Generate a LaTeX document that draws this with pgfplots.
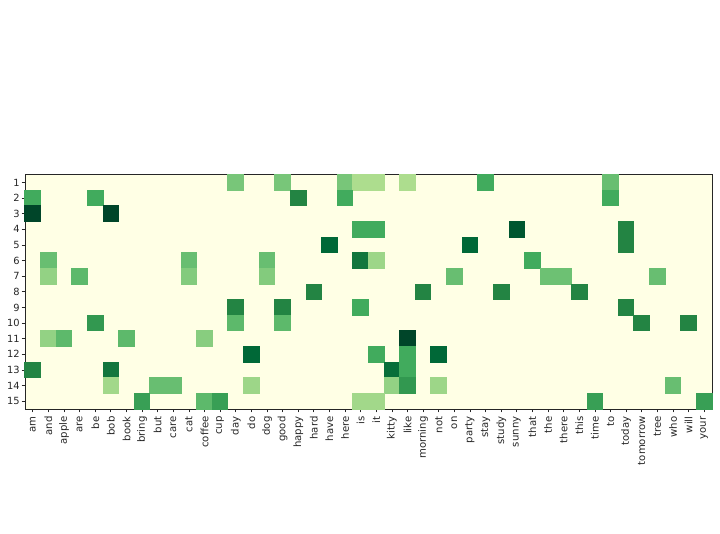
\documentclass[border=0pt]{standalone}
\usepackage{pgfplots}
\pgfplotsset{compat=1.18}
\usepackage{fontspec}
\setmainfont{DejaVu Sans}
\definecolor{bgc}{RGB}{255,255,229}
\pgfplotstableread{
x y c
13 1 4
16 1 4
20 1 4
21 1 3
22 1 3
24 1 3
29 1 5
37 1 4.3
0 2 5
4 2 5
17 2 6
20 2 5
37 2 5
0 3 8
5 3 8
21 4 5
22 4 5
31 4 7.5
38 4 6
19 5 7
28 5 7
38 5 6
1 6 4.3
10 6 4.3
15 6 4.3
21 6 6.5
22 6 3.3
32 6 5
1 7 3.5
3 7 4.5
10 7 3.8
15 7 3.8
27 7 4.3
33 7 4.2
34 7 4.2
40 7 4.3
18 8 6
25 8 6
30 8 6
35 8 6
13 9 6
16 9 6
21 9 5
38 9 6
4 10 5.5
13 10 4.5
16 10 4.5
39 10 6
42 10 6
1 11 3.5
2 11 4.5
6 11 4.5
11 11 3.7
24 11 8
14 12 7
22 12 5
24 12 5
26 12 7
0 13 6
5 13 6.5
23 13 6.8
24 13 5
5 14 3.2
8 14 4.3
9 14 4.3
14 14 3.3
23 14 3.5
24 14 5.5
26 14 3.3
41 14 4.3
7 15 5.3
11 15 4.5
12 15 5.3
21 15 3.2
22 15 3.2
36 15 5.3
43 15 5.3
}\cells
\begin{document}
\begin{tikzpicture}
\useasboundingbox (0,0) rectangle (540pt,400.5pt);
\begin{axis}[
  at={(18.75pt,93.75pt)}, anchor=south west,
  scale only axis, width=515.25pt, height=175.7pt,
  xmin=-0.5, xmax=43.5, ymin=0.5, ymax=15.5, y dir=reverse,
  axis background/.style={fill=bgc},
  xtick={0,...,43},
  xticklabels={am,and,apple,are,be,bob,book,bring,but,care,cat,coffee,cup,day,do,dog,good,happy,hard,have,here,is,it,kitty,like,morning,not,on,party,stay,study,sunny,that,the,there,this,time,to,today,tomorrow,tree,who,will,your},
  ytick={1,...,15},
  tick align=outside, tick pos=left, major tick length=2.6pt,
  xticklabel style={rotate=90, anchor=east, font=\fontsize{7.6}{8}\selectfont, inner sep=2.8pt, text=black!85},
  yticklabel style={font=\fontsize{7.4}{8}\selectfont, inner sep=1.2pt, text=black!85},
  /pgf/number format/assume math mode=true,
  colormap={ylgn}{rgb255=(255,255,229) rgb255=(247,252,185) rgb255=(217,240,163) rgb255=(173,221,142) rgb255=(120,198,121) rgb255=(65,171,93) rgb255=(35,132,67) rgb255=(0,104,55) rgb255=(0,69,41)},
  point meta min=0, point meta max=8,
  axis line style={line width=0.6pt, black!85},
  tick style={black!85, line width=0.6pt},
]
\addplot[scatter, only marks, mark=square*, mark size=5.86pt, line width=0pt,
  point meta=explicit,
  scatter/use mapped color={draw=mapped color, fill=mapped color}]
  table[x=x, y=y, meta=c] {\cells};
\end{axis}
\end{tikzpicture}
\end{document}
